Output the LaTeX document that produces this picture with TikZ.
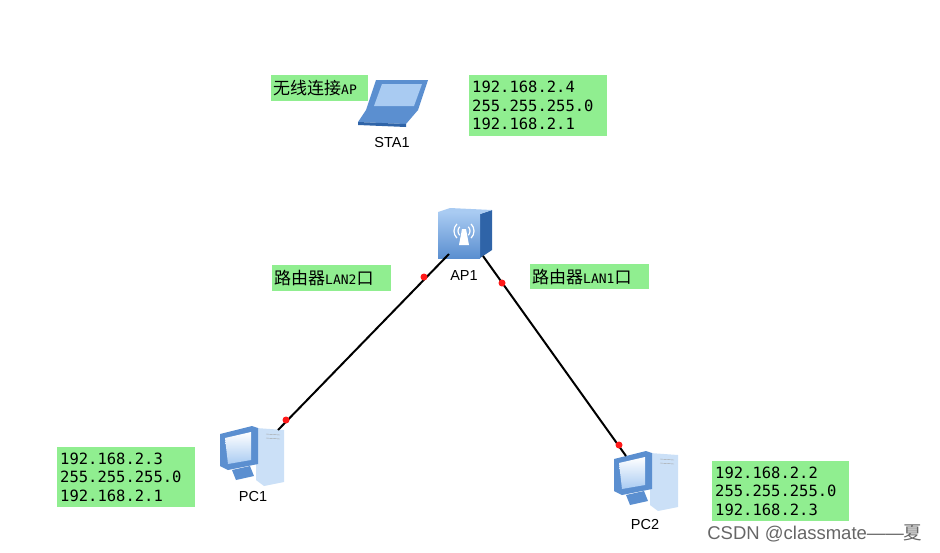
\documentclass[tikz,border=0pt]{standalone}
\usepackage{fontspec}
\setmainfont{Liberation Sans}
\setmonofont{DejaVu Sans Mono}
\newfontfamily\cjk{Noto Sans CJK SC}
\definecolor{lg}{HTML}{90EE90}
\definecolor{ib}{HTML}{5B8FD0}
\definecolor{il}{HTML}{A9CBF2}
\definecolor{icdark}{HTML}{2F64A8}
\begin{document}
\begin{tikzpicture}[x=1pt,y=-1pt,
  ipbox/.style={fill=lg,inner sep=0pt,align=left,font=\ttfamily\fontsize{15.5}{18.5}\selectfont,anchor=north west},
  tagbox/.style={fill=lg,inner sep=0pt,anchor=north west},
  tagtxt/.style={anchor=west,inner sep=0pt,font=\fontsize{17}{18}\selectfont},
  lbl/.style={font=\fontsize{14.5}{16}\selectfont},
  link/.style={line width=2pt},
  pt/.style={circle,fill=red!90,inner sep=0pt,minimum size=7pt}]
\useasboundingbox (0,0) rectangle (940,552);
% tag boxes
\node[tagbox,minimum width=97pt,minimum height=26pt] (t1) at (271,75) {};
\node[tagtxt] (t1t) at ([xshift=2pt]t1.west) {\cjk 无线连接\ttfamily\fontsize{13}{14}\selectfont AP};
\node[tagbox,minimum width=119pt,minimum height=26pt] (t2) at (272,265) {};
\node[tagtxt] (t2t) at ([xshift=2pt]t2.west) {\cjk 路由器\ttfamily\fontsize{13}{14}\selectfont LAN2\cjk\fontsize{17}{18}\selectfont 口};
\node[tagbox,minimum width=119pt,minimum height=25pt] (t3) at (530,264) {};
\node[tagtxt] (t3t) at ([xshift=2pt]t3.west) {\cjk 路由器\ttfamily\fontsize{13}{14}\selectfont LAN1\cjk\fontsize{17}{18}\selectfont 口};
% ip boxes
\node[ipbox,minimum width=138pt,minimum height=61pt,text width=136pt] (ip0) at (469,75) {\hspace*{2pt}192.168.2.4\\\hspace*{2pt}255.255.255.0\\\hspace*{2pt}192.168.2.1};
\node[ipbox,minimum width=138pt,minimum height=60pt,text width=136pt] (ip1) at (57,447) {\hspace*{2pt}192.168.2.3\\\hspace*{2pt}255.255.255.0\\\hspace*{2pt}192.168.2.1};
\node[ipbox,minimum width=137pt,minimum height=60pt,text width=135pt] (ip2) at (712,461) {\hspace*{2pt}192.168.2.2\\\hspace*{2pt}255.255.255.0\\\hspace*{2pt}192.168.2.3};
% AP icon
\fill[icdark] (480,214) -- (492,210) -- (492,250) -- (480,258) -- cycle;
\fill[il] (438,212) -- (450,208) -- (492,210) -- (480,214) -- cycle;
\shade[top color=il,bottom color=ib] (438,212) rectangle (480,258);
\fill[white] (459,245) -- (462,229) -- (466,229) -- (469,245) -- cycle;
\foreach \r in {6,10} {\draw[white,line width=1.2pt] (464,231) ++(135:\r) arc[start angle=135,end angle=225,radius=\r];
 \draw[white,line width=1.2pt] (464,231) ++(45:\r) arc[start angle=45,end angle=-45,radius=\r];}
\node[lbl] (aplbl) at (464,276) {AP1};
% laptop
\fill[ib] (376,80) -- (428,80) -- (418,110) -- (366,110) -- cycle;
\fill[il] (382,84) -- (422,84) -- (414,106) -- (374,106) -- cycle;
\fill[ib] (366,110) -- (418,110) -- (406,124) -- (358,122) -- cycle;
\fill[icdark] (358,122) -- (406,124) -- (406,127) -- (358,125) -- cycle;
\node[lbl] (sta) at (392,143) {STA1};
% PC icons
\foreach \x/\y in {218/420,612/445}{
 \begin{scope}[shift={(\x,\y)}]
  \fill[il!60] (38,8) -- (66,10) -- (66,62) -- (46,66) -- (38,60) -- cycle;
  \draw[gray!70] (48,14) -- (62,15) (48,18) -- (62,19);
  \fill[ib] (2,14) -- (34,6) -- (40,8) -- (40,44) -- (10,50) -- (2,46) -- cycle;
  \shade[top color=white,bottom color=il] (7,18) -- (33,12) -- (33,40) -- (10,44) -- cycle;
  \fill[ib] (14,50) -- (32,46) -- (36,56) -- (18,60) -- cycle;
 \end{scope}}
\node[lbl] (pc1) at (253,497) {PC1};
\node[lbl] (pc2) at (645,525) {PC2};
\coordinate (p1) at (278,430);
\coordinate (p2) at (626,456);
\coordinate (a1) at (449,254);
\coordinate (a2) at (483,256);
\draw[link] (a1) -- (p1);
\draw[link] (a2) -- (p2);
\node[pt] (d1) at (424,277) {};
\node[pt] (d2) at (286,420) {};
\node[pt] (d3) at (502,283) {};
\node[pt] (d4) at (619,445) {};
\node[font=\fontsize{18.5}{20}\selectfont,text=gray!80!black,anchor=east] (wm) at (926,533) {CSDN @classmate——{\cjk 夏}};
\end{tikzpicture}
\end{document}
